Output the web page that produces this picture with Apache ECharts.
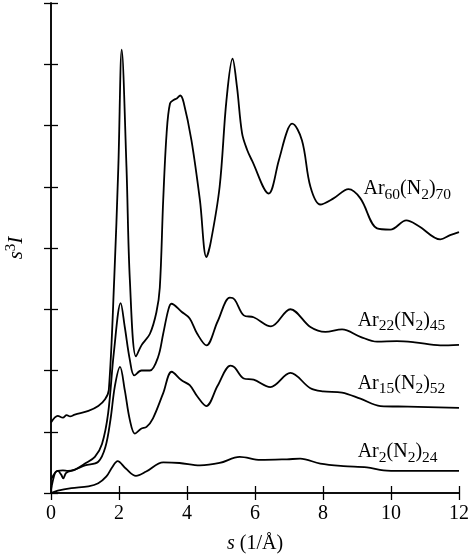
<!DOCTYPE html>
<html>
<head>
<meta charset="utf-8">
<script src="https://cdn.jsdelivr.net/npm/echarts@6/dist/echarts.min.js"></script>
<style>
  html, body { margin: 0; padding: 0; background: #fff; }
  #main { width: 474px; height: 558px; }
</style>
</head>
<body>
<div id="main"></div>
<script>
// s (1/Å) vs s^3 I
const ar60 = [[0, 1.15], [0.2, 1.26], [0.35, 1.23], [0.46, 1.27], [0.56, 1.25], [0.7, 1.28], [1.1, 1.34],
  [1.39, 1.42], [1.59, 1.53], [1.7, 1.68], [1.86, 3.5], [1.98, 5.32], [2.08, 7.24], [2.22, 5.32],
  [2.32, 3.47], [2.5, 2.23], [2.66, 2.41], [2.91, 2.6], [3.1, 2.95], [3.2, 3.35], [3.3, 4.78],
  [3.4, 5.87], [3.5, 6.36], [3.62, 6.42], [3.7, 6.44], [3.8, 6.49], [3.9, 6.38], [4.13, 5.76],
  [4.38, 4.78], [4.57, 3.85], [4.7, 4.1], [4.96, 5.0], [5.16, 6.41], [5.34, 7.09], [5.47, 6.63],
  [5.62, 5.87], [5.77, 5.6], [5.91, 5.43], [6.4, 4.89], [6.7, 5.43], [6.94, 5.9], [7.09, 6.03],
  [7.38, 5.76], [7.63, 5.0], [7.92, 4.71], [8.31, 4.81], [8.75, 4.96], [9.1, 4.81], [9.59, 4.32],
  [9.98, 4.3], [10.45, 4.45], [10.81, 4.36], [11.45, 4.14], [11.74, 4.21], [12, 4.26]];

const ar22 = [[0, 0.22], [0.2, 0.36], [0.3, 0.3], [0.36, 0.24], [0.45, 0.33], [0.7, 0.38], [1.0, 0.48],
  [1.29, 0.59], [1.5, 0.8], [1.68, 1.3], [1.85, 2.3], [2.05, 3.1], [2.17, 2.71], [2.32, 2.17],
  [2.45, 1.92], [2.66, 2.0], [2.91, 2.0], [3.15, 2.22], [3.3, 2.6], [3.45, 2.99], [3.54, 3.09],
  [3.84, 2.96], [4.08, 2.85], [4.3, 2.6], [4.57, 2.41], [4.9, 2.8], [5.26, 3.19], [5.4, 3.16],
  [5.67, 2.9], [5.96, 2.87], [6.47, 2.72], [7.04, 3.0], [7.63, 2.71], [8.07, 2.63], [8.56, 2.67],
  [9.1, 2.55], [9.59, 2.47], [10.17, 2.48], [10.7, 2.46], [11.45, 2.41], [12, 2.42]];

const ar15 = [[0, 0.05], [0.12, 0.33], [0.2, 0.36], [0.35, 0.37], [0.5, 0.36], [0.7, 0.38], [1.0, 0.45],
  [1.39, 0.51], [1.6, 0.75], [1.75, 1.2], [1.88, 1.75], [2.03, 2.06], [2.17, 1.68], [2.32, 1.19],
  [2.47, 0.97], [2.65, 1.05], [2.81, 1.08], [3.0, 1.22], [3.3, 1.63], [3.55, 1.98], [3.84, 1.84],
  [4.08, 1.76], [4.3, 1.58], [4.57, 1.42], [4.9, 1.75], [5.28, 2.08], [5.4, 2.05], [5.67, 1.87],
  [5.96, 1.85], [6.45, 1.73], [7.04, 1.96], [7.63, 1.71], [8.0, 1.66], [8.56, 1.64], [9.1, 1.54],
  [9.69, 1.42], [10.5, 1.41], [12, 1.39]];

const ar2 = [[0, 0], [0.2, 0.04], [0.6, 0.08], [1.1, 0.11], [1.39, 0.16], [1.63, 0.27], [1.8, 0.42],
  [1.96, 0.52], [2.2, 0.4], [2.5, 0.28], [2.8, 0.35], [3.3, 0.5], [3.78, 0.49], [4.38, 0.45],
  [4.96, 0.49], [5.55, 0.59], [6.16, 0.54], [6.94, 0.55], [7.33, 0.56], [7.92, 0.48], [8.6, 0.44],
  [9.29, 0.42], [9.78, 0.37], [10.3, 0.36], [12, 0.36]];

const names = ['Ar{sub|60}(N{sub|2}){sub|70}', 'Ar{sub|22}(N{sub|2}){sub|45}',
  'Ar{sub|15}(N{sub|2}){sub|52}', 'Ar{sub|2}(N{sub|2}){sub|24}'];
const labelAt = [[9.19, 4.96], [9.02, 2.82], [9.02, 1.79], [9.02, 0.67]];
const curves = [ar60, ar22, ar15, ar2];

const font = "'Liberation Serif', 'Times New Roman', serif";
const myChart = echarts.init(document.getElementById('main'));

const axisCommon = {
    axisLine: { show: true, lineStyle: { color: '#000', width: 1.5 } },
    axisTick: { show: true, inside: true, length: 7, lineStyle: { color: '#000', width: 1.3 } },
    splitLine: { show: false }
};

const option = {
    animation: false,
    backgroundColor: '#fff',
    grid: { left: 51, right: 15, top: 3, bottom: 65, containLabel: false, outerBoundsMode: 'none' },
    xAxis: [
        Object.assign({
            type: 'value', position: 'bottom', min: 0, max: 12, interval: 2,
            axisLabel: { color: '#000', fontFamily: font, fontSize: 20, margin: 11 },
            name: '{i|s} (1/Å)', nameLocation: 'middle', nameGap: 41,
            nameTextStyle: {
                color: '#000', fontFamily: font, fontSize: 20,
                rich: { i: { fontStyle: 'italic', fontFamily: font, fontSize: 20, color: '#000' } }
            }
        }, axisCommon),
        Object.assign({
            type: 'value', position: 'top', min: 0, max: 12, interval: 2,
            axisLabel: { show: false }
        }, axisCommon)
    ],
    yAxis: [
        Object.assign({
            type: 'value', position: 'left', min: 0, max: 8, interval: 1,
            axisLabel: { show: false },
            name: '{i|s}{sup|3}{i|I}', nameLocation: 'middle', nameGap: 22, nameRotate: 90,
            nameTextStyle: {
                color: '#000', fontFamily: font, fontSize: 20,
                rich: {
                    i: { fontStyle: 'italic', fontFamily: font, fontSize: 21, color: '#000' },
                    sup: { fontFamily: font, fontSize: 15, color: '#000', padding: [0, 0, 10, 0] }
                }
            }
        }, axisCommon),
        Object.assign({
            type: 'value', position: 'right', min: 0, max: 8, interval: 1,
            axisLabel: { show: false }
        }, axisCommon)
    ],
    series: curves.map(function (d, k) {
        return {
            type: 'line',
            data: d,
            smooth: 0.35,
            showSymbol: false,
            symbol: 'none',
            lineStyle: { color: '#000', width: 1.8 },
            markPoint: {
                symbol: 'circle',
                symbolSize: 0,
                data: [{ coord: labelAt[k] }],
                label: {
                    show: true,
                    position: [0, 0],
                    align: 'left',
                    verticalAlign: 'middle',
                    formatter: names[k],
                    color: '#000',
                    fontFamily: font,
                    fontSize: 20,
                    rich: {
                        sub: { fontFamily: font, fontSize: 15.5, color: '#000', padding: [11, 0, 0, 0] }
                    }
                }
            }
        };
    })
};

myChart.setOption(option);
</script>
</body>
</html>
